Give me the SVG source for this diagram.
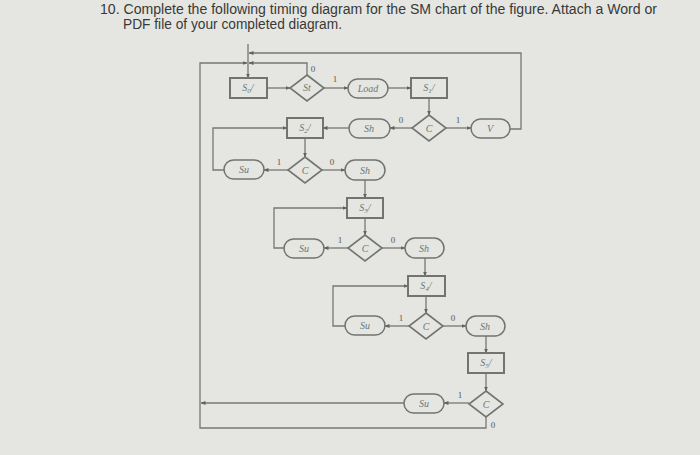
<svg xmlns="http://www.w3.org/2000/svg" width="700" height="455" viewBox="0 0 700 455">
<defs>
<marker id="ah" viewBox="0 0 10 10" refX="9" refY="5" markerWidth="5" markerHeight="5" orient="auto" markerUnits="userSpaceOnUse">
<path d="M0,1 L10,5 L0,9 z" fill="#626462"/>
</marker>
<style>
.st{fill:none;stroke:#727471;stroke-width:2}
.dm{fill:none;stroke:#727471;stroke-width:1.6}
.pl{fill:none;stroke:#727471;stroke-width:1.5}
.cn{fill:none;stroke:#767875;stroke-width:1.3}
.ar{marker-end:url(#ah)}
.lb{font-family:"Liberation Serif",serif;font-style:italic;font-size:10px;fill:#6b7774;text-anchor:middle}
.bl{font-family:"Liberation Serif",serif;font-size:9px;fill:#555a57;text-anchor:middle}
.tt{font-family:"Liberation Sans",Arial,sans-serif;font-size:14px;fill:#383938}
</style>
</defs>
<rect width="700" height="455" fill="#e5e6e1"/>
<text class="tt" x="100" y="14" textLength="557" lengthAdjust="spacingAndGlyphs">10. Complete the following timing diagram for the SM chart of the figure. Attach a Word or</text>
<text class="tt" x="123" y="29" textLength="219" lengthAdjust="spacingAndGlyphs">PDF file of your completed diagram.</text>

<g id="connectors">
<path class="cn ar" d="M248,44 V78"/>
<path class="cn ar" d="M510,129 H521 V53 H249"/>
<path class="cn ar" d="M486,417 V428 H200 V63 H247"/>
<path class="cn ar" d="M307,75 V63 H249"/>
<path class="cn ar" d="M267,88 H290"/>
<path class="cn ar" d="M324,88 H348"/>
<path class="cn ar" d="M388,88 H411"/>
<path class="cn ar" d="M429,98 V115"/>
<path class="cn ar" d="M412,128 H390"/>
<path class="cn ar" d="M446,128 H471"/>
<path class="cn ar" d="M349,128 H323"/>
<path class="cn ar" d="M305,138 V157"/>
<path class="cn ar" d="M288,170 H264"/>
<path class="cn ar" d="M322,170 H345"/>
<path class="cn ar" d="M224,170 H213 V128 H287"/>
<path class="cn ar" d="M365,180 V198"/>
<path class="cn ar" d="M365,218 V235"/>
<path class="cn ar" d="M348,248 H324"/>
<path class="cn ar" d="M382,248 H405"/>
<path class="cn ar" d="M284,248 H274 V208 H347"/>
<path class="cn ar" d="M425,258 V276"/>
<path class="cn ar" d="M426,296 V313"/>
<path class="cn ar" d="M409,326 H385"/>
<path class="cn ar" d="M443,326 H466"/>
<path class="cn ar" d="M345,326 H333 V286 H408"/>
<path class="cn ar" d="M486,336 V353"/>
<path class="cn ar" d="M486,373 V391"/>
<path class="cn ar" d="M469,403 H444"/>
<path class="cn ar" d="M404,403 H201"/>
<text class="bl" x="313" y="72">0</text>
<text class="bl" x="335" y="82">1</text>
<text class="bl" x="401" y="123">0</text>
<text class="bl" x="458" y="123">1</text>
<text class="bl" x="279" y="165">1</text>
<text class="bl" x="332" y="165">0</text>
<text class="bl" x="340" y="243">1</text>
<text class="bl" x="393" y="243">0</text>
<text class="bl" x="401" y="321">1</text>
<text class="bl" x="453" y="321">0</text>
<text class="bl" x="460" y="398">1</text>
<text class="bl" x="493" y="428">0</text>
</g>

<g id="S0"><rect class="st" x="230" y="78" width="37" height="20"/><text class="lb" x="248" y="91">S<tspan font-size="7" dy="2">0</tspan><tspan dy="-2">/</tspan></text></g>
<g id="St"><path class="dm" d="M307,75 L324,88 L307,101 L290,88 z"/><text class="lb" x="307" y="91">St</text></g>
<g id="Load"><rect class="pl" x="348" y="79" width="40" height="19" rx="9.5"/><text class="lb" x="368" y="92">Load</text></g>
<g id="S1"><rect class="st" x="411" y="78" width="36" height="20"/><text class="lb" x="429" y="91">S<tspan font-size="7" dy="2">1</tspan><tspan dy="-2">/</tspan></text></g>
<g id="C2"><path class="dm" d="M429,115 L446,128 L429,141 L412,128 z"/><text class="lb" x="429" y="132">C</text></g>
<g id="Sh2"><rect class="pl" x="349" y="119" width="41" height="19" rx="9.5"/><text class="lb" x="369" y="132">Sh</text></g>
<g id="V"><rect class="pl" x="471" y="119" width="39" height="19" rx="9.5"/><text class="lb" x="490" y="132">V</text></g>
<g id="S2"><rect class="st" x="287" y="118" width="36" height="20"/><text class="lb" x="305" y="131">S<tspan font-size="7" dy="2">2</tspan><tspan dy="-2">/</tspan></text></g>
<g id="C3"><path class="dm" d="M305,157 L322,170 L305,183 L288,170 z"/><text class="lb" x="305" y="174">C</text></g>
<g id="Su3"><rect class="pl" x="224" y="160" width="40" height="19" rx="9.5"/><text class="lb" x="244" y="173">Su</text></g>
<g id="Sh3"><rect class="pl" x="345" y="160" width="40" height="20" rx="10"/><text class="lb" x="365" y="174">Sh</text></g>
<g id="S3"><rect class="st" x="347" y="198" width="36" height="20"/><text class="lb" x="365" y="211">S<tspan font-size="7" dy="2">3</tspan><tspan dy="-2">/</tspan></text></g>
<g id="C4"><path class="dm" d="M365,235 L382,248 L365,261 L348,248 z"/><text class="lb" x="365" y="252">C</text></g>
<g id="Su4"><rect class="pl" x="284" y="239" width="40" height="19" rx="9.5"/><text class="lb" x="304" y="252">Su</text></g>
<g id="Sh4"><rect class="pl" x="405" y="238" width="39" height="20" rx="10"/><text class="lb" x="424" y="252">Sh</text></g>
<g id="S4"><rect class="st" x="408" y="276" width="37" height="20"/><text class="lb" x="426" y="289">S<tspan font-size="7" dy="2">4</tspan><tspan dy="-2">/</tspan></text></g>
<g id="C5"><path class="dm" d="M426,313 L443,326 L426,339 L409,326 z"/><text class="lb" x="426" y="330">C</text></g>
<g id="Su5"><rect class="pl" x="345" y="316" width="40" height="19" rx="9.5"/><text class="lb" x="365" y="329">Su</text></g>
<g id="Sh5"><rect class="pl" x="466" y="316" width="39" height="20" rx="10"/><text class="lb" x="485" y="330">Sh</text></g>
<g id="S5"><rect class="st" x="468" y="353" width="36" height="20"/><text class="lb" x="486" y="366">S<tspan font-size="7" dy="2">5</tspan><tspan dy="-2">/</tspan></text></g>
<g id="C6"><path class="dm" d="M486,391 L503,404 L486,417 L469,404 z"/><text class="lb" x="486" y="408">C</text></g>
<g id="Su6"><rect class="pl" x="404" y="394" width="40" height="19" rx="9.5"/><text class="lb" x="424" y="407">Su</text></g>
</svg>
